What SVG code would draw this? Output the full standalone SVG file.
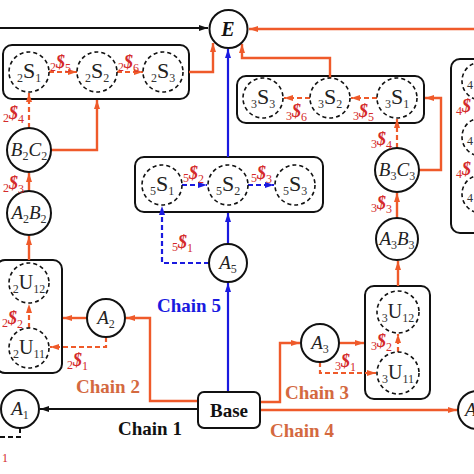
<svg xmlns="http://www.w3.org/2000/svg" width="474" height="474" viewBox="0 0 474 474" font-family="'Liberation Serif','Times New Roman',serif">
<style>
text,tspan{font-family:"Liberation Serif","Times New Roman",serif}
.box{fill:#fff;stroke:#111;stroke-width:2}
.nc{fill:#fff;stroke:#111;stroke-width:2}
.dc{fill:#fff;stroke:#111;stroke-width:1.6;stroke-dasharray:4 3}
.o{fill:none;stroke:#ef5a2a;stroke-width:2.4}
.od{fill:none;stroke:#ef5a2a;stroke-width:2.2;stroke-dasharray:5 3}
.b{fill:none;stroke:#1a1adf;stroke-width:2.2}
.bd{fill:none;stroke:#1a1adf;stroke-width:2.2;stroke-dasharray:5 3}
.k{fill:none;stroke:#111;stroke-width:2}
.kd{fill:none;stroke:#111;stroke-width:2;stroke-dasharray:5 3}
.ns{font-size:22px;fill:#222}
.nu{font-size:20px;fill:#222}
.ni{font-size:19px;font-style:italic;fill:#222}
.np{font-size:12px;fill:#333}
.lab{fill:#d42a2a}
.lp{font-size:12px}
.ld{font-size:18px;font-weight:bold;font-style:italic}
.ch{font-size:19px;font-weight:bold}
.cho{fill:#d4693f}
</style>
<defs>
<marker id="ao" viewBox="0 0 9 6" refX="9" refY="3" markerWidth="9" markerHeight="6" orient="auto" markerUnits="userSpaceOnUse"><path d="M0,0 L9,3 L0,6 z" fill="#ef5a2a"/></marker>
<marker id="ab" viewBox="0 0 9 6" refX="9" refY="3" markerWidth="9" markerHeight="6" orient="auto" markerUnits="userSpaceOnUse"><path d="M0,0 L9,3 L0,6 z" fill="#1a1adf"/></marker>
<marker id="ak" viewBox="0 0 9 6" refX="9" refY="3" markerWidth="9" markerHeight="6" orient="auto" markerUnits="userSpaceOnUse"><path d="M0,0 L9,3 L0,6 z" fill="#111"/></marker>
</defs>

<!-- boxes -->
<g id="box2S"><rect class="box" x="3" y="45" width="186" height="54" rx="9"/></g>
<g id="box2U"><rect class="box" x="-4" y="260" width="66" height="113" rx="9"/></g>
<g id="box5S"><rect class="box" x="135" y="157" width="188" height="55" rx="9"/></g>
<g id="box3S"><rect class="box" x="237" y="76" width="187" height="47" rx="9"/></g>
<g id="box3U"><rect class="box" x="365" y="286" width="65" height="113" rx="9"/></g>
<g id="box4S"><rect class="box" x="451" y="59" width="60" height="174" rx="9"/></g>

<!-- connectors -->
<g id="connectors">
<path class="k" d="M0,28 H208" marker-end="url(#ak)"/>
<path class="k" d="M198,409 H40" marker-end="url(#ak)"/>
<path class="kd" d="M20,428 V437 H0"/>
<path class="o" d="M474,29 H249" marker-end="url(#ao)"/>
<path class="o" d="M189,72 H213 V43" marker-end="url(#ao)"/>
<path class="o" d="M330,78 V58 H242 V44" marker-end="url(#ao)"/>
<path class="b" d="M228,157 V49" marker-end="url(#ab)"/>
<path class="od" d="M49,72 H77" marker-end="url(#ao)"/>
<path class="od" d="M117,72 H143" marker-end="url(#ao)"/>
<path class="od" d="M29,128 V93" marker-end="url(#ao)"/>
<path class="o" d="M51,150 H97 V100" marker-end="url(#ao)"/>
<path class="o" d="M29,191 V173" marker-end="url(#ao)"/>
<path class="o" d="M29,260 V236" marker-end="url(#ao)"/>
<path class="od" d="M29,328 V304" marker-end="url(#ao)"/>
<path class="o" d="M87,318 H63" marker-end="url(#ao)"/>
<path class="o" d="M198,401 H150 V318 H126" marker-end="url(#ao)"/>
<path class="od" d="M106,337 V347 H50" marker-end="url(#ao)"/>
<path class="b" d="M228,392 V283" marker-end="url(#ab)"/>
<path class="b" d="M228,244 V213" marker-end="url(#ab)"/>
<path class="bd" d="M209,263 H162 V206" marker-end="url(#ab)"/>
<path class="bd" d="M182,185 H207" marker-end="url(#ab)"/>
<path class="bd" d="M248,185 H274" marker-end="url(#ab)"/>
<path class="od" d="M377,98 H351" marker-end="url(#ao)"/>
<path class="od" d="M310,98 H284" marker-end="url(#ao)"/>
<path class="od" d="M397,148 V119" marker-end="url(#ao)"/>
<path class="o" d="M419,170 H441 V98 H425" marker-end="url(#ao)"/>
<path class="o" d="M397,218 V193" marker-end="url(#ao)"/>
<path class="o" d="M398,286 V261" marker-end="url(#ao)"/>
<path class="od" d="M398,352 V334" marker-end="url(#ao)"/>
<path class="o" d="M339,343 H364" marker-end="url(#ao)"/>
<path class="o" d="M260,402 H280 V343 H300" marker-end="url(#ao)"/>
<path class="od" d="M320,362 V373 H376" marker-end="url(#ao)"/>
<path class="o" d="M260,410 H457" marker-end="url(#ao)"/>
</g>

<!-- nodes -->
<g id="E"><circle class="nc" cx="228.5" cy="29" r="19"/><text x="228" y="36" text-anchor="middle" font-size="20" font-weight="bold" font-style="italic" fill="#111">E</text></g>

<g id="n2S1"><circle class="dc" cx="29" cy="72" r="20"/><text x="29" y="78" text-anchor="middle"><tspan class="np" dy="4">2</tspan><tspan class="ns" dy="-4">S</tspan><tspan class="np" dy="4">1</tspan></text></g>
<g id="n2S2"><circle class="dc" cx="97" cy="72" r="20"/><text x="97" y="78" text-anchor="middle"><tspan class="np" dy="4">2</tspan><tspan class="ns" dy="-4">S</tspan><tspan class="np" dy="4">2</tspan></text></g>
<g id="n2S3"><circle class="dc" cx="163" cy="72" r="20"/><text x="163" y="78" text-anchor="middle"><tspan class="np" dy="4">2</tspan><tspan class="ns" dy="-4">S</tspan><tspan class="np" dy="4">3</tspan></text></g>

<g id="B2C2"><circle class="nc" cx="29" cy="150" r="22"/><text x="29" y="156" text-anchor="middle"><tspan class="ni">B</tspan><tspan class="np" dy="4">2</tspan><tspan class="ni" dy="-4">C</tspan><tspan class="np" dy="4">2</tspan></text></g>
<g id="A2B2"><circle class="nc" cx="29" cy="213" r="22"/><text x="29" y="219" text-anchor="middle"><tspan class="ni">A</tspan><tspan class="np" dy="4">2</tspan><tspan class="ni" dy="-4">B</tspan><tspan class="np" dy="4">2</tspan></text></g>

<g id="n2U12"><circle class="dc" cx="29" cy="283" r="20"/><text x="29" y="289" text-anchor="middle"><tspan class="np" dy="4">2</tspan><tspan class="nu" dy="-4">U</tspan><tspan class="np" dy="4">12</tspan></text></g>
<g id="n2U11"><circle class="dc" cx="29" cy="348" r="20"/><text x="29" y="354" text-anchor="middle"><tspan class="np" dy="4">2</tspan><tspan class="nu" dy="-4">U</tspan><tspan class="np" dy="4">11</tspan></text></g>

<g id="A2"><circle class="nc" cx="106" cy="318" r="19"/><text x="106" y="324" text-anchor="middle"><tspan class="ni">A</tspan><tspan class="np" dy="4">2</tspan></text></g>
<g id="A1"><circle class="nc" cx="20" cy="409" r="19"/><text x="20" y="415" text-anchor="middle"><tspan class="ni">A</tspan><tspan class="np" dy="4">1</tspan></text></g>
<g id="A5"><circle class="nc" cx="228" cy="263" r="19"/><text x="228" y="269" text-anchor="middle"><tspan class="ni">A</tspan><tspan class="np" dy="4">5</tspan></text></g>
<g id="A3"><circle class="nc" cx="320" cy="343" r="19"/><text x="320" y="349" text-anchor="middle"><tspan class="ni">A</tspan><tspan class="np" dy="4">3</tspan></text></g>
<g id="A4"><circle class="nc" cx="477" cy="410" r="19"/><text x="465" y="416"><tspan class="ni">A</tspan><tspan class="np" dy="4">4</tspan></text></g>

<g id="Base"><rect class="box" x="198" y="392" width="62" height="36" rx="6"/><text x="229" y="417" text-anchor="middle" font-size="19" font-weight="bold" fill="#111">Base</text></g>

<g id="n5S1"><circle class="dc" cx="162" cy="185" r="20"/><text x="162" y="191" text-anchor="middle"><tspan class="np" dy="4">5</tspan><tspan class="ns" dy="-4">S</tspan><tspan class="np" dy="4">1</tspan></text></g>
<g id="n5S2"><circle class="dc" cx="228" cy="185" r="20"/><text x="228" y="191" text-anchor="middle"><tspan class="np" dy="4">5</tspan><tspan class="ns" dy="-4">S</tspan><tspan class="np" dy="4">2</tspan></text></g>
<g id="n5S3"><circle class="dc" cx="295" cy="185" r="20"/><text x="295" y="191" text-anchor="middle"><tspan class="np" dy="4">5</tspan><tspan class="ns" dy="-4">S</tspan><tspan class="np" dy="4">3</tspan></text></g>

<g id="n3S3"><circle class="dc" cx="263" cy="98" r="20"/><text x="263" y="104" text-anchor="middle"><tspan class="np" dy="4">3</tspan><tspan class="ns" dy="-4">S</tspan><tspan class="np" dy="4">3</tspan></text></g>
<g id="n3S2"><circle class="dc" cx="330" cy="98" r="20"/><text x="330" y="104" text-anchor="middle"><tspan class="np" dy="4">3</tspan><tspan class="ns" dy="-4">S</tspan><tspan class="np" dy="4">2</tspan></text></g>
<g id="n3S1"><circle class="dc" cx="397" cy="98" r="20"/><text x="397" y="104" text-anchor="middle"><tspan class="np" dy="4">3</tspan><tspan class="ns" dy="-4">S</tspan><tspan class="np" dy="4">1</tspan></text></g>

<g id="B3C3"><circle class="nc" cx="397" cy="170" r="22"/><text x="397" y="176" text-anchor="middle"><tspan class="ni">B</tspan><tspan class="np" dy="4">3</tspan><tspan class="ni" dy="-4">C</tspan><tspan class="np" dy="4">3</tspan></text></g>
<g id="A3B3"><circle class="nc" cx="397" cy="239" r="21"/><text x="397" y="245" text-anchor="middle"><tspan class="ni">A</tspan><tspan class="np" dy="4">3</tspan><tspan class="ni" dy="-4">B</tspan><tspan class="np" dy="4">3</tspan></text></g>

<g id="n3U12"><circle class="dc" cx="398" cy="312" r="21"/><text x="398" y="318" text-anchor="middle"><tspan class="np" dy="4">3</tspan><tspan class="nu" dy="-4">U</tspan><tspan class="np" dy="4">12</tspan></text></g>
<g id="n3U11"><circle class="dc" cx="398" cy="373" r="21"/><text x="398" y="379" text-anchor="middle"><tspan class="np" dy="4">3</tspan><tspan class="nu" dy="-4">U</tspan><tspan class="np" dy="4">11</tspan></text></g>

<g id="n4S1"><circle class="dc" cx="481" cy="81" r="19"/><text x="467" y="89" class="np">4</text></g>
<g id="n4S2"><circle class="dc" cx="481" cy="137" r="19"/><text x="467" y="145" class="np">4</text></g>
<g id="n4S3"><circle class="dc" cx="481" cy="194" r="19"/><text x="467" y="202" class="np">4</text></g>

<!-- labels -->
<g id="labels">
<text class="lab" x="50" y="71"><tspan class="lp">2</tspan><tspan class="ld" dy="-3">$</tspan><tspan class="lp" dy="4">5</tspan></text>
<text class="lab" x="118" y="71"><tspan class="lp">2</tspan><tspan class="ld" dy="-3">$</tspan><tspan class="lp" dy="4">6</tspan></text>
<text class="lab" x="3" y="122"><tspan class="lp">2</tspan><tspan class="ld" dy="-3">$</tspan><tspan class="lp" dy="4">4</tspan></text>
<text class="lab" x="3" y="192"><tspan class="lp">2</tspan><tspan class="ld" dy="-3">$</tspan><tspan class="lp" dy="4">3</tspan></text>
<text class="lab" x="2" y="327"><tspan class="lp">2</tspan><tspan class="ld" dy="-3">$</tspan><tspan class="lp" dy="4">2</tspan></text>
<text class="lab" x="67" y="369"><tspan class="lp">2</tspan><tspan class="ld" dy="-3">$</tspan><tspan class="lp" dy="4">1</tspan></text>
<text class="lab" x="2" y="462"><tspan class="lp">1</tspan></text>
<text class="lab" x="183" y="182"><tspan class="lp">5</tspan><tspan class="ld" dy="-3">$</tspan><tspan class="lp" dy="4">2</tspan></text>
<text class="lab" x="251" y="182"><tspan class="lp">5</tspan><tspan class="ld" dy="-3">$</tspan><tspan class="lp" dy="4">3</tspan></text>
<text class="lab" x="172" y="251"><tspan class="lp">5</tspan><tspan class="ld" dy="-3">$</tspan><tspan class="lp" dy="4">1</tspan></text>
<text class="lab" x="353" y="120"><tspan class="lp">3</tspan><tspan class="ld" dy="-3">$</tspan><tspan class="lp" dy="4">5</tspan></text>
<text class="lab" x="286" y="120"><tspan class="lp">3</tspan><tspan class="ld" dy="-3">$</tspan><tspan class="lp" dy="4">6</tspan></text>
<text class="lab" x="371" y="148"><tspan class="lp">3</tspan><tspan class="ld" dy="-3">$</tspan><tspan class="lp" dy="4">4</tspan></text>
<text class="lab" x="371" y="212"><tspan class="lp">3</tspan><tspan class="ld" dy="-3">$</tspan><tspan class="lp" dy="4">3</tspan></text>
<text class="lab" x="371" y="350"><tspan class="lp">3</tspan><tspan class="ld" dy="-3">$</tspan><tspan class="lp" dy="4">2</tspan></text>
<text class="lab" x="335" y="370"><tspan class="lp">3</tspan><tspan class="ld" dy="-3">$</tspan><tspan class="lp" dy="4">1</tspan></text>
<text class="lab" x="456" y="115"><tspan class="lp">4</tspan><tspan class="ld" dy="-3">$</tspan></text>
<text class="lab" x="456" y="178"><tspan class="lp">4</tspan><tspan class="ld" dy="-3">$</tspan></text>
</g>

<g id="chains">
<text class="ch cho" x="76" y="393">Chain 2</text>
<text class="ch" x="118" y="435" fill="#111">Chain 1</text>
<text class="ch cho" x="285" y="399">Chain 3</text>
<text class="ch cho" x="270" y="437">Chain 4</text>
<text class="ch" x="157" y="312" fill="#1a1adf">Chain 5</text>
</g>
</svg>
